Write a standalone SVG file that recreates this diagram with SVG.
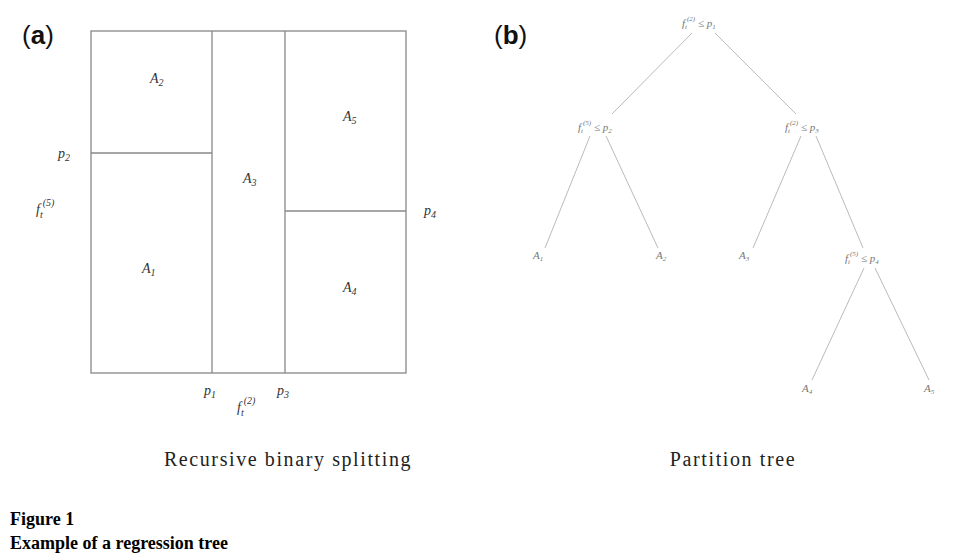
<svg xmlns="http://www.w3.org/2000/svg" width="968" height="558" viewBox="0 0 968 558">
<style>
.m{font-family:"Liberation Serif",serif;font-size:14px;fill:#333}
.i{font-style:italic}
.s{font-size:10px}
.t{font-family:"Liberation Serif",serif;font-size:11px;fill:#777}
.ts{font-size:7px}
.ln{stroke:#888;stroke-width:1.3;fill:none}
.tl{stroke:#bbb;stroke-width:1;fill:none}
.cap{font-family:"Liberation Serif",serif;font-size:20px;fill:#222}
.h{font-family:"Liberation Sans",sans-serif;font-size:26px;fill:#111}
.f{font-family:"Liberation Serif",serif;font-size:18px;font-weight:bold;fill:#000}
</style>
<rect width="968" height="558" fill="#fff"/>
<text class="h" x="22" y="44">(<tspan font-weight="bold">a</tspan>)</text>
<text class="h" x="494" y="44">(<tspan font-weight="bold">b</tspan>)</text>
<g id="partition">
<rect class="ln" x="91" y="31" width="315" height="342"/>
<line class="ln" x1="212" y1="31" x2="212" y2="373"/>
<line class="ln" x1="285" y1="31" x2="285" y2="373"/>
<line class="ln" x1="91" y1="153" x2="212" y2="153"/>
<line class="ln" x1="285" y1="211" x2="406" y2="211"/>
<text class="m i" x="150" y="83">A<tspan class="s" dy="3">2</tspan></text>
<text class="m i" x="142" y="273">A<tspan class="s" dy="3">1</tspan></text>
<text class="m i" x="243" y="183">A<tspan class="s" dy="3">3</tspan></text>
<text class="m i" x="343" y="121">A<tspan class="s" dy="3">5</tspan></text>
<text class="m i" x="343" y="292">A<tspan class="s" dy="3">4</tspan></text>
<text class="m i" x="58" y="158">p<tspan class="s" dy="3">2</tspan></text>
<text class="m i" x="424" y="215">p<tspan class="s" dy="3">4</tspan></text>
<text class="m i" x="204" y="395">p<tspan class="s" dy="3">1</tspan></text>
<text class="m i" x="277" y="395">p<tspan class="s" dy="3">3</tspan></text>
<text class="m i" x="36" y="214">f<tspan class="s" dy="4">t</tspan><tspan class="s" dy="-12">(5)</tspan></text>
<text class="m i" x="237" y="412">f<tspan class="s" dy="4">t</tspan><tspan class="s" dy="-12">(2)</tspan></text>
</g>
<g id="connectors">
<line class="tl" x1="692" y1="33" x2="612" y2="114"/>
<line class="tl" x1="715" y1="33" x2="796" y2="114"/>
<line class="tl" x1="590" y1="136" x2="545" y2="248"/>
<line class="tl" x1="606" y1="136" x2="658" y2="248"/>
<line class="tl" x1="801" y1="136" x2="753" y2="248"/>
<line class="tl" x1="816" y1="136" x2="863" y2="248"/>
<line class="tl" x1="864" y1="268" x2="812" y2="380"/>
<line class="tl" x1="875" y1="268" x2="929" y2="380"/>
</g>
<g id="n1"><text class="t i" x="682" y="27">f<tspan class="ts" dy="2">t</tspan><tspan class="ts" dy="-8">(2)</tspan><tspan dy="6" font-style="normal"> ≤ </tspan>p<tspan class="ts" dy="2">1</tspan></text></g>
<g id="n2"><text class="t i" x="578" y="131">f<tspan class="ts" dy="2">t</tspan><tspan class="ts" dy="-8">(5)</tspan><tspan dy="6" font-style="normal"> ≤ </tspan>p<tspan class="ts" dy="2">2</tspan></text></g>
<g id="n3"><text class="t i" x="785" y="131">f<tspan class="ts" dy="2">t</tspan><tspan class="ts" dy="-8">(2)</tspan><tspan dy="6" font-style="normal"> ≤ </tspan>p<tspan class="ts" dy="2">3</tspan></text></g>
<g id="n4"><text class="t i" x="845" y="262">f<tspan class="ts" dy="2">t</tspan><tspan class="ts" dy="-8">(5)</tspan><tspan dy="6" font-style="normal"> ≤ </tspan>p<tspan class="ts" dy="2">4</tspan></text></g>
<g id="l1"><text class="t i" x="533" y="259">A<tspan class="ts" dy="2">1</tspan></text></g>
<g id="l2"><text class="t i" x="656" y="259">A<tspan class="ts" dy="2">2</tspan></text></g>
<g id="l3"><text class="t i" x="739" y="259">A<tspan class="ts" dy="2">3</tspan></text></g>
<g id="l4"><text class="t i" x="802" y="392">A<tspan class="ts" dy="2">4</tspan></text></g>
<g id="l5"><text class="t i" x="924" y="392">A<tspan class="ts" dy="2">5</tspan></text></g>
<text class="cap" x="288" y="466" text-anchor="middle" letter-spacing="1.6">Recursive binary splitting</text>
<text class="cap" x="733" y="466" text-anchor="middle" letter-spacing="1.6">Partition tree</text>
<text class="f" x="10" y="525">Figure 1</text>
<text class="f" x="10" y="549">Example of a regression tree</text>
</svg>
